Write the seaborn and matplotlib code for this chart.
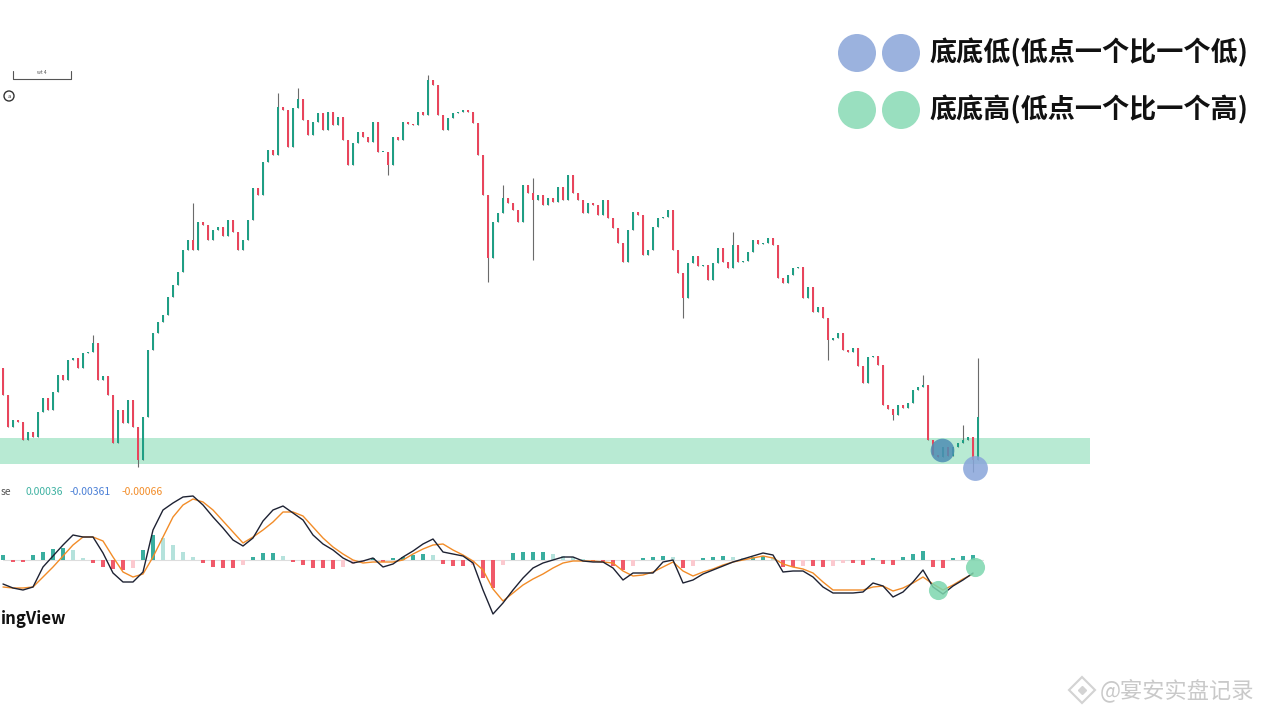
import matplotlib
matplotlib.use("Agg")
import matplotlib.pyplot as plt
from matplotlib.patches import Circle
import numpy as np
import seaborn as sns

# ---- price candles (open of each candle = close of the previous one) ----
first_open = 112
closes = [
    85, 53, 60, 58, 40, 48, 43, 68, 82, 70,
    88, 105, 100, 120, 122, 112, 127, 128, 137, 100,
    104, 85, 37, 70, 57, 80, 53, 20, 63, 130,
    147, 158, 165, 183, 195, 208, 230, 240, 230, 258,
    255, 240, 250, 253, 244, 260, 248, 230, 240, 260,
    292, 285, 318, 330, 325, 373, 370, 333, 372, 381,
    360, 345, 358, 367, 350, 368, 355, 363, 340, 315,
    337, 348, 343, 338, 358, 328, 328, 315, 343, 340,
    358, 356, 355, 368, 365, 400, 395, 365, 350, 362,
    367, 368, 370, 368, 357, 325, 285, 222, 258, 267,
    282, 277, 270, 258, 295, 287, 280, 285, 275, 282,
    278, 293, 280, 305, 287, 280, 267, 277, 275, 265,
    280, 262, 252, 237, 218, 250, 268, 265, 225, 230,
    253, 262, 263, 270, 230, 207, 182, 217, 224, 214,
    215, 200, 217, 232, 218, 212, 235, 218, 219, 228,
    240, 236, 237, 242, 235, 202, 197, 205, 212, 213,
    182, 193, 168, 173, 162, 140, 142, 147, 130, 128,
    132, 114, 97, 123, 124, 115, 75, 71, 65, 75,
    72, 77, 90, 93, 95, 40, 25, 23, 33, 24,
    33, 37, 40, 43, 20, 63,
]
wick_highs = {18: 145, 38: 277, 55: 387, 59: 392, 85: 405, 100: 295,
              106: 302, 146: 248, 184: 105, 192: 55, 195: 122}
wick_lows = {27: 13, 77: 305, 97: 198, 106: 220, 136: 162, 165: 120,
             178: 60, 194: 8}

support_low, support_high = 16, 42

# marked lows on price (candle index, price)
price_low_x = [187.8, 194.4]
price_low_y = [30, 12]

# ---- MACD panel, one value every two candles ----
macd_x = list(range(0, 196, 2))
macd_line = [
    -24, -28, -30, -27, -7, 4, 15, 25, 23, 23,
    7, -13, -22, -22, -12, 30, 50, 57, 63, 64,
    55, 43, 32, 20, 14, 22, 39, 50, 54, 47,
    40, 25, 16, 10, 2, -3, -1, 2, -7, -4,
    3, 9, 16, 21, 8, 6, 4, -3, -30, -54,
    -43, -30, -18, -8, -3, 0, 3, 3, -1, -2,
    -2, -8, -20, -13, -13, -13, -2, 0, -23, -20,
    -14, -10, -6, -2, 1, 4, 7, 5, -12, -11,
    -11, -17, -27, -33, -33, -33, -32, -23, -26, -37,
    -32, -22, -10, -27, -34, -26, -20, -13,
]
signal_line = [
    -27, -28, -28, -27, -17, -7, 4, 15, 23, 23,
    19, 3, -12, -17, -14, 3, 23, 43, 55, 61,
    58, 50, 39, 28, 17, 23, 30, 38, 48, 48,
    44, 33, 22, 13, 6, 0, -3, -2, -2, -2,
    0, 6, 11, 15, 16, 10, 5, -1, -10, -29,
    -41, -33, -25, -19, -14, -8, -3, -1, -1, -1,
    -2, -3, -11, -16, -15, -12, -7, -2, -11, -16,
    -12, -9, -5, -2, 0, 2, 4, 2, -4, -7,
    -9, -13, -22, -30, -30, -30, -30, -27, -26, -31,
    -28, -23, -17, -24, -30, -25, -19, -14,
]
histogram = [
    5, -2, -2, 5, 8, 11, 12, 10, 2, -3,
    -7, -9, -10, -8, 10, 25, 22, 15, 8, 3,
    -3, -7, -8, -8, -5, 3, 7, 7, 4, -2,
    -5, -8, -8, -9, -7, -4, -2, 2, -2, 2,
    3, 5, 6, 5, -4, -6, -6, -5, -18, -28,
    -5, 7, 8, 8, 8, 6, 4, 3, 1, -1,
    -2, -6, -10, -6, 2, 3, 4, 3, -8, -6,
    2, 3, 4, 3, 2, 3, 4, 3, -7, -7,
    -6, -6, -7, -6, -3, -3, -5, 2, -4, -5,
    3, 6, 9, -7, -8, 2, 4, 5,
]
macd_low_x = [187, 194.4]
macd_low_y = [-30, -7]

macd_values = ["0.00036", "-0.00361", "-0.00066"]
legend_labels = ["底底低(低点一个比一个低)", "底底高(低点一个比一个高)"]
watermark = "@宴安实盘记录"

UP, DOWN = "#1f9e84", "#e8455c"

sns.set_theme(style="white")
plt.rcParams["font.family"] = ["Noto Sans CJK SC", "DejaVu Sans"]

W, H = 1278, 717
fig = plt.figure(figsize=(W / 100, H / 100), dpi=100)
fig.patch.set_facecolor("white")

# price axes
ax = fig.add_axes([0, 0, 1, 1])
ax.set_xlim(-0.6, 255)
ax.set_ylim(-237, 480)
ax.axis("off")

ax.axhspan(support_low, support_high, xmin=0, xmax=1090 / W,
           color="#b8ead3", lw=0, zorder=1)

closes_a = np.array(closes, dtype=float)
opens_a = np.concatenate([[first_open], closes_a[:-1]])
idx = np.arange(len(closes_a))
colors = [UP if c >= o else DOWN for o, c in zip(opens_a, closes_a)]
highs = [wick_highs.get(i, max(o, c)) for i, (o, c) in enumerate(zip(opens_a, closes_a))]
lows = [wick_lows.get(i, min(o, c)) for i, (o, c) in enumerate(zip(opens_a, closes_a))]

ax.vlines(idx, lows, highs, colors="#6b6b6b", lw=0.8, zorder=2)
body_bottom = np.minimum(opens_a, closes_a)
body_h = np.maximum(np.abs(closes_a - opens_a), 1.2)
ax.bar(idx, body_h, bottom=body_bottom, width=0.55, color=colors, lw=0, zorder=3)

ax.scatter(price_low_x[:1], price_low_y[:1], s=290, color="#4f8eb4", alpha=0.85,
           lw=0, zorder=4)
ax.scatter(price_low_x[1:], price_low_y[1:], s=320, color="#88a5da", alpha=0.85,
           lw=0, zorder=4)

# MACD axes
ax2 = fig.add_axes([0, 0, 1, 1], facecolor="none")
ax2.set_xlim(-0.6, 255)
ax2.set_ylim(-157, 560)
ax2.axis("off")

hist_colors = []
prev = 0
for h in histogram:
    if h >= 0:
        hist_colors.append("#3aae9f" if h >= prev else "#b5e2dc")
    else:
        hist_colors.append("#f05a6a" if h <= prev else "#fbc9cf")
    prev = h
ax2.plot([0, 196], [0, 0], color="#dddddd", lw=0.8, zorder=1)
ax2.bar(macd_x, histogram, width=0.9, color=hist_colors, lw=0, zorder=2)
sns.lineplot(x=macd_x, y=signal_line, ax=ax2, color="#f28c28", lw=1.0, zorder=3)
sns.lineplot(x=macd_x, y=macd_line, ax=ax2, color="#1e2233", lw=1.0, zorder=4)
ax2.scatter(macd_low_x, macd_low_y, s=190, color="#7dd6ae", alpha=0.85, lw=0, zorder=5)

# annotation layer in pixel units
an = fig.add_axes([0, 0, 1, 1], facecolor="none")
an.set_xlim(0, W)
an.set_ylim(H, 0)
an.axis("off")

an.text(1, 492, "se", fontsize=7.5, color="#555555", va="center")
for txt, x, col in zip(macd_values, [25, 70, 122], ["#3fb2a2", "#4a7fd6", "#f28c28"]):
    an.text(x, 492, txt, fontsize=7.5, color=col, va="center")

an.text(1, 619, "ingView", fontsize=12, fontweight="bold", color="#111111",
        va="center")

an.plot([13, 13, 71, 71], [71, 79, 79, 71], color="#555555", lw=0.8)
an.text(42, 73, "wt 4", fontsize=3.5, color="#555555", ha="center", va="center")
an.add_patch(Circle((9, 96), 5, fill=False, ec="#333333", lw=1.0))
an.text(9, 96, "a", fontsize=4, ha="center", va="center", color="#333333")

for y, col, label in zip([53, 110], ["#9bb2de", "#99dfbf"], legend_labels):
    an.add_patch(Circle((857, y), 19, color=col, lw=0))
    an.add_patch(Circle((901, y), 19, color=col, lw=0))
    an.text(929, y, label, fontsize=19.5, fontweight="bold", color="#111111",
            va="center", ha="left")

an.plot(1082, 690, marker="D", ms=13, mfc="none", mec="#d3d3d3", mew=1.5)
an.plot(1082, 690, marker="D", ms=4, mfc="#d3d3d3", mec="#d3d3d3")
an.text(1100, 690, watermark, fontsize=16, color="#c9c9c9", va="center", ha="left")

fig.savefig("out.png", dpi=100, facecolor="white")
